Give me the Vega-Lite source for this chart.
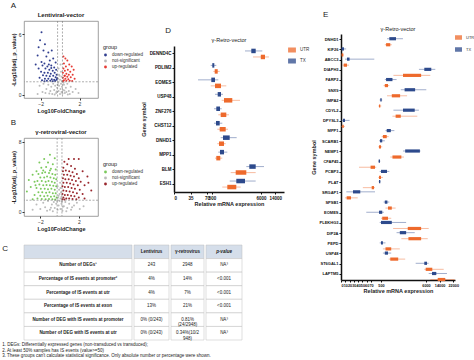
{
"$schema":"https://vega.github.io/schema/vega-lite/v6.json",
"padding":{"left":2,"top":2,"right":0,"bottom":0},
"background":"white",
"config":{
 "font":"Liberation Sans",
 "view":{"stroke":null},
 "axis":{"grid":false,"labelFontSize":5,"titleFontSize":5.5,"tickSize":2,"labelPadding":1,"titlePadding":2,"labelColor":"#333","titleColor":"#222","tickColor":"#333","domainColor":"#333"},
 "title":{"fontSize":6,"fontWeight":"bold","offset":2,"color":"#222"},
 "legend":{"titleFontSize":5.5,"labelFontSize":4.5,"symbolSize":8,"rowPadding":1,"padding":0,"titlePadding":2,"titleFontWeight":"normal","labelColor":"#333","titleColor":"#222"},
 "concat":{"spacing":4}
},
"datasets":{
 "va":[
  {"x":-2.1,"y":0.9,"g":"n"},{"x":-1.7,"y":1.1,"g":"n"},{"x":-1.4,"y":0.6,"g":"n"},{"x":-1.2,"y":1.0,"g":"n"},{"x":-1.0,"y":0.4,"g":"n"},{"x":-0.9,"y":0.8,"g":"n"},{"x":-0.7,"y":1.1,"g":"n"},{"x":-0.6,"y":0.5,"g":"n"},{"x":-0.5,"y":0.9,"g":"n"},{"x":-0.4,"y":0.2,"g":"n"},{"x":-0.3,"y":0.7,"g":"n"},{"x":-0.2,"y":1.2,"g":"n"},{"x":-0.15,"y":0.4,"g":"n"},{"x":-0.1,"y":0.9,"g":"n"},{"x":0,"y":0.1,"g":"n"},{"x":0.05,"y":0.6,"g":"n"},{"x":0.1,"y":1.1,"g":"n"},{"x":0.15,"y":0.3,"g":"n"},{"x":0.2,"y":0.8,"g":"n"},{"x":0.3,"y":0.5,"g":"n"},{"x":0.4,"y":1.0,"g":"n"},{"x":0.5,"y":0.2,"g":"n"},{"x":0.6,"y":0.7,"g":"n"},{"x":0.75,"y":1.1,"g":"n"},{"x":0.9,"y":0.4,"g":"n"},{"x":1.1,"y":0.8,"g":"n"},{"x":1.3,"y":0.3,"g":"n"},{"x":1.6,"y":0.6,"g":"n"},{"x":1.9,"y":0.2,"g":"n"},{"x":-1.8,"y":0.3,"g":"n"},{"x":-2.3,"y":0.1,"g":"n"},{"x":-0.8,"y":0.1,"g":"n"},{"x":0.8,"y":0.05,"g":"n"},{"x":-0.2,"y":1.6,"g":"n"},{"x":-0.1,"y":2.0,"g":"n"},{"x":0.0,"y":1.5,"g":"n"},{"x":0.1,"y":2.3,"g":"n"},{"x":0.15,"y":1.8,"g":"n"},{"x":-0.15,"y":2.6,"g":"n"},{"x":0.05,"y":3.0,"g":"n"},{"x":-0.05,"y":1.9,"g":"n"},{"x":0.2,"y":1.4,"g":"n"},{"x":-1.5,"y":0.2,"g":"n"},{"x":-1.1,"y":0.15,"g":"n"},{"x":-0.35,"y":0.35,"g":"n"},{"x":0.25,"y":0.15,"g":"n"},{"x":0.45,"y":0.45,"g":"n"},{"x":1.0,"y":0.1,"g":"n"},{"x":-0.55,"y":0.05,"g":"n"},{"x":0.65,"y":0.3,"g":"n"},{"x":-0.25,"y":1.0,"g":"n"},{"x":0.35,"y":1.2,"g":"n"},
  {"x":-1.9,"y":6.2,"g":"d"},{"x":-2.05,"y":5.4,"g":"d"},{"x":-1.55,"y":5.0,"g":"d"},{"x":-2.2,"y":4.7,"g":"d"},{"x":-1.7,"y":4.4,"g":"d"},{"x":-0.85,"y":4.4,"g":"d"},{"x":-1.2,"y":4.2,"g":"d"},{"x":-2.3,"y":3.9,"g":"d"},{"x":-1.4,"y":3.8,"g":"d"},{"x":-0.7,"y":3.6,"g":"d"},{"x":-1.05,"y":3.4,"g":"d"},{"x":-1.9,"y":3.25,"g":"d"},{"x":-2.5,"y":3.0,"g":"d"},{"x":-1.6,"y":3.1,"g":"d"},{"x":-0.45,"y":3.2,"g":"d"},{"x":-1.8,"y":2.9,"g":"d"},{"x":-1.3,"y":2.8,"g":"d"},{"x":-0.9,"y":2.9,"g":"d"},{"x":-0.6,"y":2.7,"g":"d"},{"x":-1.5,"y":2.6,"g":"d"},{"x":-1.1,"y":2.5,"g":"d"},{"x":-0.75,"y":2.4,"g":"d"},{"x":-0.4,"y":2.5,"g":"d"},{"x":-1.95,"y":2.3,"g":"d"},{"x":-1.6,"y":2.2,"g":"d"},{"x":-1.25,"y":2.2,"g":"d"},{"x":-0.95,"y":2.1,"g":"d"},{"x":-0.55,"y":2.2,"g":"d"},{"x":-0.35,"y":2.0,"g":"d"},{"x":-1.75,"y":1.95,"g":"d"},{"x":-1.4,"y":1.9,"g":"d"},{"x":-1.05,"y":1.85,"g":"d"},{"x":-0.7,"y":1.9,"g":"d"},{"x":-0.45,"y":1.75,"g":"d"},{"x":-2.1,"y":1.7,"g":"d"},{"x":-1.55,"y":1.6,"g":"d"},{"x":-1.2,"y":1.6,"g":"d"},{"x":-0.85,"y":1.55,"g":"d"},{"x":-0.6,"y":1.5,"g":"d"},{"x":-0.35,"y":1.5,"g":"d"},{"x":-1.85,"y":1.45,"g":"d"},{"x":-1.35,"y":1.4,"g":"d"},{"x":-1.0,"y":1.4,"g":"d"},{"x":-0.75,"y":1.35,"g":"d"},{"x":-0.5,"y":1.38,"g":"d"},{"x":-1.6,"y":1.35,"g":"d"},{"x":-0.9,"y":2.65,"g":"d"},{"x":-1.15,"y":3.0,"g":"d"},{"x":-0.3,"y":1.65,"g":"d"},{"x":-2.2,"y":2.6,"g":"d"},
  {"x":0.35,"y":3.8,"g":"u"},{"x":0.55,"y":3.6,"g":"u"},{"x":0.75,"y":3.4,"g":"u"},{"x":0.4,"y":3.1,"g":"u"},{"x":0.95,"y":3.0,"g":"u"},{"x":1.2,"y":2.8,"g":"u"},{"x":0.6,"y":2.8,"g":"u"},{"x":0.35,"y":2.6,"g":"u"},{"x":1.4,"y":2.5,"g":"u"},{"x":0.8,"y":2.5,"g":"u"},{"x":0.5,"y":2.4,"g":"u"},{"x":1.05,"y":2.3,"g":"u"},{"x":0.3,"y":2.2,"g":"u"},{"x":0.65,"y":2.1,"g":"u"},{"x":0.9,"y":2.0,"g":"u"},{"x":1.3,"y":2.0,"g":"u"},{"x":0.45,"y":1.9,"g":"u"},{"x":0.75,"y":1.8,"g":"u"},{"x":1.1,"y":1.75,"g":"u"},{"x":0.3,"y":1.7,"g":"u"},{"x":0.55,"y":1.6,"g":"u"},{"x":0.85,"y":1.55,"g":"u"},{"x":1.5,"y":1.6,"g":"u"},{"x":0.4,"y":1.45,"g":"u"},{"x":0.65,"y":1.4,"g":"u"},{"x":1.0,"y":1.4,"g":"u"},{"x":0.3,"y":1.35,"g":"u"},{"x":1.25,"y":1.38,"g":"u"},{"x":0.5,"y":1.9,"g":"u"}
 ],
 "vb":[
  {"x":-2.4,"y":0.8,"g":"n"},{"x":-2.0,"y":0.3,"g":"n"},{"x":-1.7,"y":1.0,"g":"n"},{"x":-1.5,"y":0.5,"g":"n"},{"x":-1.2,"y":1.2,"g":"n"},{"x":-1.0,"y":0.2,"g":"n"},{"x":-0.8,"y":0.8,"g":"n"},{"x":-0.6,"y":1.1,"g":"n"},{"x":-0.5,"y":0.4,"g":"n"},{"x":-0.35,"y":0.9,"g":"n"},{"x":-0.2,"y":0.2,"g":"n"},{"x":-0.1,"y":0.7,"g":"n"},{"x":0,"y":1.2,"g":"n"},{"x":0.1,"y":0.3,"g":"n"},{"x":0.2,"y":0.9,"g":"n"},{"x":0.3,"y":0.1,"g":"n"},{"x":0.45,"y":0.6,"g":"n"},{"x":0.6,"y":1.1,"g":"n"},{"x":0.8,"y":0.4,"g":"n"},{"x":1.0,"y":0.9,"g":"n"},{"x":1.2,"y":0.2,"g":"n"},{"x":1.5,"y":0.7,"g":"n"},{"x":1.8,"y":1.0,"g":"n"},{"x":2.1,"y":0.3,"g":"n"},{"x":2.5,"y":0.6,"g":"n"},{"x":-2.8,"y":0.2,"g":"n"},{"x":-0.7,"y":0.05,"g":"n"},{"x":0.7,"y":0.05,"g":"n"},{"x":-0.15,"y":1.6,"g":"n"},{"x":0.0,"y":2.0,"g":"n"},{"x":0.1,"y":1.5,"g":"n"},{"x":-0.05,"y":2.5,"g":"n"},{"x":0.15,"y":2.2,"g":"n"},{"x":-0.2,"y":2.9,"g":"n"},{"x":0.05,"y":3.3,"g":"n"},{"x":-0.1,"y":1.8,"g":"n"},{"x":0.2,"y":1.7,"g":"n"},{"x":0.1,"y":2.7,"g":"n"},{"x":-1.3,"y":0.1,"g":"n"},{"x":-0.9,"y":0.45,"g":"n"},{"x":0.35,"y":0.55,"g":"n"},{"x":1.3,"y":0.5,"g":"n"},{"x":-0.25,"y":1.25,"g":"n"},{"x":0.25,"y":1.15,"g":"n"},
  {"x":-1.0,"y":6.5,"g":"d"},{"x":-1.6,"y":6.0,"g":"d"},{"x":-0.5,"y":6.1,"g":"d"},{"x":-2.1,"y":5.6,"g":"d"},{"x":-1.2,"y":5.6,"g":"d"},{"x":-0.7,"y":5.4,"g":"d"},{"x":-1.9,"y":5.0,"g":"d"},{"x":-1.4,"y":5.1,"g":"d"},{"x":-0.9,"y":4.9,"g":"d"},{"x":-0.4,"y":4.8,"g":"d"},{"x":-2.4,"y":4.6,"g":"d"},{"x":-2.8,"y":4.2,"g":"d"},{"x":-3.2,"y":3.6,"g":"d"},{"x":-2.6,"y":3.4,"g":"d"},{"x":-3.0,"y":2.8,"g":"d"},{"x":-3.4,"y":2.3,"g":"d"},{"x":-2.2,"y":4.3,"g":"d"},{"x":-1.8,"y":4.4,"g":"d"},{"x":-1.5,"y":4.5,"g":"d"},{"x":-1.1,"y":4.4,"g":"d"},{"x":-0.75,"y":4.3,"g":"d"},{"x":-0.45,"y":4.2,"g":"d"},{"x":-2.0,"y":3.9,"g":"d"},{"x":-1.6,"y":3.9,"g":"d"},{"x":-1.3,"y":4.0,"g":"d"},{"x":-0.95,"y":3.9,"g":"d"},{"x":-0.6,"y":3.8,"g":"d"},{"x":-0.35,"y":3.7,"g":"d"},{"x":-2.3,"y":3.5,"g":"d"},{"x":-1.85,"y":3.5,"g":"d"},{"x":-1.45,"y":3.4,"g":"d"},{"x":-1.15,"y":3.5,"g":"d"},{"x":-0.8,"y":3.4,"g":"d"},{"x":-0.5,"y":3.3,"g":"d"},{"x":-2.1,"y":3.1,"g":"d"},{"x":-1.7,"y":3.0,"g":"d"},{"x":-1.35,"y":3.05,"g":"d"},{"x":-1.0,"y":3.0,"g":"d"},{"x":-0.65,"y":2.95,"g":"d"},{"x":-0.35,"y":2.9,"g":"d"},{"x":-2.4,"y":2.7,"g":"d"},{"x":-1.95,"y":2.6,"g":"d"},{"x":-1.55,"y":2.6,"g":"d"},{"x":-1.2,"y":2.55,"g":"d"},{"x":-0.85,"y":2.6,"g":"d"},{"x":-0.5,"y":2.5,"g":"d"},{"x":-2.2,"y":2.2,"g":"d"},{"x":-1.8,"y":2.2,"g":"d"},{"x":-1.4,"y":2.15,"g":"d"},{"x":-1.05,"y":2.2,"g":"d"},{"x":-0.7,"y":2.1,"g":"d"},{"x":-0.4,"y":2.1,"g":"d"},{"x":-2.6,"y":1.9,"g":"d"},{"x":-2.0,"y":1.8,"g":"d"},{"x":-1.6,"y":1.75,"g":"d"},{"x":-1.25,"y":1.8,"g":"d"},{"x":-0.9,"y":1.7,"g":"d"},{"x":-0.55,"y":1.75,"g":"d"},{"x":-0.3,"y":1.6,"g":"d"},{"x":-2.3,"y":1.5,"g":"d"},{"x":-1.85,"y":1.45,"g":"d"},{"x":-1.45,"y":1.4,"g":"d"},{"x":-1.1,"y":1.45,"g":"d"},{"x":-0.75,"y":1.4,"g":"d"},{"x":-0.45,"y":1.38,"g":"d"},{"x":-2.8,"y":1.4,"g":"d"},{"x":-1.0,"y":4.7,"g":"d"},{"x":-1.7,"y":4.7,"g":"d"},{"x":-2.5,"y":3.0,"g":"d"},
  {"x":0.95,"y":6.0,"g":"u"},{"x":1.5,"y":6.0,"g":"u"},{"x":2.0,"y":6.0,"g":"u"},{"x":0.5,"y":5.7,"g":"u"},{"x":0.8,"y":5.4,"g":"u"},{"x":1.2,"y":5.2,"g":"u"},{"x":0.4,"y":5.0,"g":"u"},{"x":1.6,"y":4.9,"g":"u"},{"x":2.4,"y":4.6,"g":"u"},{"x":2.9,"y":4.0,"g":"u"},{"x":3.0,"y":3.3,"g":"u"},{"x":2.6,"y":3.0,"g":"u"},{"x":3.3,"y":2.4,"g":"u"},{"x":0.35,"y":4.6,"g":"u"},{"x":0.65,"y":4.7,"g":"u"},{"x":1.0,"y":4.6,"g":"u"},{"x":1.35,"y":4.5,"g":"u"},{"x":1.8,"y":4.3,"g":"u"},{"x":0.45,"y":4.2,"g":"u"},{"x":0.8,"y":4.2,"g":"u"},{"x":1.15,"y":4.1,"g":"u"},{"x":1.5,"y":4.0,"g":"u"},{"x":2.0,"y":3.8,"g":"u"},{"x":0.35,"y":3.8,"g":"u"},{"x":0.6,"y":3.7,"g":"u"},{"x":0.95,"y":3.7,"g":"u"},{"x":1.3,"y":3.6,"g":"u"},{"x":1.7,"y":3.5,"g":"u"},{"x":2.2,"y":3.4,"g":"u"},{"x":0.4,"y":3.3,"g":"u"},{"x":0.75,"y":3.3,"g":"u"},{"x":1.1,"y":3.2,"g":"u"},{"x":1.45,"y":3.1,"g":"u"},{"x":1.9,"y":3.0,"g":"u"},{"x":0.3,"y":2.9,"g":"u"},{"x":0.55,"y":2.8,"g":"u"},{"x":0.9,"y":2.8,"g":"u"},{"x":1.25,"y":2.7,"g":"u"},{"x":1.6,"y":2.6,"g":"u"},{"x":2.1,"y":2.5,"g":"u"},{"x":0.4,"y":2.4,"g":"u"},{"x":0.7,"y":2.35,"g":"u"},{"x":1.05,"y":2.3,"g":"u"},{"x":1.4,"y":2.2,"g":"u"},{"x":1.8,"y":2.1,"g":"u"},{"x":2.4,"y":2.0,"g":"u"},{"x":0.3,"y":2.0,"g":"u"},{"x":0.55,"y":1.9,"g":"u"},{"x":0.85,"y":1.9,"g":"u"},{"x":1.2,"y":1.8,"g":"u"},{"x":1.55,"y":1.75,"g":"u"},{"x":2.0,"y":1.6,"g":"u"},{"x":0.4,"y":1.6,"g":"u"},{"x":0.7,"y":1.5,"g":"u"},{"x":1.0,"y":1.5,"g":"u"},{"x":1.35,"y":1.45,"g":"u"},{"x":1.75,"y":1.4,"g":"u"},{"x":0.3,"y":1.4,"g":"u"},{"x":0.5,"y":1.38,"g":"u"},{"x":2.6,"y":1.5,"g":"u"}
 ],
 "dd":[
  {"gene":"DENND4C","grp":"TX","lo":3800,"q1":4430,"q3":4870,"hi":6735},{"gene":"DENND4C","grp":"UTR","lo":4600,"q1":5950,"q3":8260,"hi":10500},
  {"gene":"PDLIM2","grp":"TX","lo":388,"q1":530,"q3":730,"hi":930},{"gene":"PDLIM2","grp":"UTR","lo":630,"q1":770,"q3":1070,"hi":1270},
  {"gene":"EOMES","grp":"TX","lo":51,"q1":440,"q3":800,"hi":1130},{"gene":"EOMES","grp":"UTR","lo":388,"q1":800,"q3":1400,"hi":1930},
  {"gene":"USP48","grp":"TX","lo":800,"q1":1070,"q3":1400,"hi":1600},{"gene":"USP48","grp":"UTR","lo":1470,"q1":1700,"q3":2530,"hi":3300},
  {"gene":"ZNF276","grp":"TX","lo":700,"q1":930,"q3":1300,"hi":1470},{"gene":"ZNF276","grp":"UTR","lo":1130,"q1":1370,"q3":1930,"hi":2200},
  {"gene":"CHST12","grp":"TX","lo":700,"q1":900,"q3":1270,"hi":1530},{"gene":"CHST12","grp":"UTR","lo":1030,"q1":1270,"q3":1870,"hi":2100},
  {"gene":"DNHD1","grp":"TX","lo":1370,"q1":1600,"q3":2270,"hi":2970},{"gene":"DNHD1","grp":"UTR","lo":1030,"q1":1200,"q3":1700,"hi":1870},
  {"gene":"MPP1","grp":"TX","lo":1130,"q1":1300,"q3":1700,"hi":2030},{"gene":"MPP1","grp":"UTR","lo":800,"q1":930,"q3":1330,"hi":1530},
  {"gene":"BLM","grp":"TX","lo":3930,"q1":4230,"q3":4870,"hi":7700},{"gene":"BLM","grp":"UTR","lo":2370,"q1":2870,"q3":3930,"hi":4870},
  {"gene":"ESH1","grp":"TX","lo":2270,"q1":2930,"q3":3800,"hi":4870},{"gene":"ESH1","grp":"UTR","lo":1530,"q1":2030,"q3":2930,"hi":3370}
 ],
 "ee":[
  {"gene":"DNHD1","grp":"TX","lo":1130,"q1":1370,"q3":2070,"hi":2800},{"gene":"DNHD1","grp":"UTR","lo":900,"q1":1030,"q3":1470,"hi":1630},
  {"gene":"KIF26","grp":"TX","lo":0,"q1":1.6,"q3":7,"hi":12},{"gene":"KIF26","grp":"UTR","lo":0,"q1":1.6,"q3":5.4,"hi":6.3},
  {"gene":"ABCC3","grp":"TX","lo":9.3,"q1":14,"q3":20,"hi":212},{"gene":"ABCC3","grp":"UTR","lo":3,"q1":6.3,"q3":14,"hi":18.7},
  {"gene":"DIAPH3","grp":"TX","lo":4470,"q1":5150,"q3":9100,"hi":11450},{"gene":"DIAPH3","grp":"UTR","lo":1800,"q1":2800,"q3":4700,"hi":8520},
  {"gene":"FARP2","grp":"TX","lo":900,"q1":1030,"q3":1700,"hi":2130},{"gene":"FARP2","grp":"UTR","lo":770,"q1":900,"q3":1230,"hi":1370},
  {"gene":"SNX9","grp":"TX","lo":2570,"q1":2970,"q3":4070,"hi":6180},{"gene":"SNX9","grp":"UTR","lo":1130,"q1":1630,"q3":2500,"hi":3230},
  {"gene":"IMPA2","grp":"TX","lo":444,"q1":470,"q3":570,"hi":630},{"gene":"IMPA2","grp":"UTR","lo":384,"q1":414,"q3":470,"hi":530},
  {"gene":"CDYL2","grp":"TX","lo":1800,"q1":2800,"q3":4030,"hi":4470},{"gene":"CDYL2","grp":"UTR","lo":1700,"q1":2030,"q3":2570,"hi":4300},
  {"gene":"DPYSL3","grp":"TX","lo":0,"q1":4.7,"q3":9.3,"hi":20},{"gene":"DPYSL3","grp":"UTR","lo":0,"q1":3,"q3":6.3,"hi":9},
  {"gene":"MPP1","grp":"TX","lo":970,"q1":1100,"q3":1530,"hi":1900},{"gene":"MPP1","grp":"UTR","lo":570,"q1":700,"q3":1100,"hi":1300},
  {"gene":"SCARB1","grp":"TX","lo":414,"q1":457,"q3":630,"hi":900},{"gene":"SCARB1","grp":"UTR","lo":384,"q1":414,"q3":500,"hi":630},
  {"gene":"NEMP1","grp":"TX","lo":2800,"q1":3030,"q3":4570,"hi":4630},{"gene":"NEMP1","grp":"UTR","lo":1470,"q1":1700,"q3":2630,"hi":2900},
  {"gene":"CFAP45","grp":"TX","lo":384,"q1":400,"q3":457,"hi":470},{"gene":"CFAP45","grp":"UTR","lo":42,"q1":69,"q3":242,"hi":298},
  {"gene":"PCBP3","grp":"TX","lo":444,"q1":500,"q3":1130,"hi":1370},{"gene":"PCBP3","grp":"UTR","lo":384,"q1":414,"q3":500,"hi":700},
  {"gene":"PLAT","grp":"TX","lo":400,"q1":414,"q3":470,"hi":480},{"gene":"PLAT","grp":"UTR","lo":51,"q1":100,"q3":200,"hi":242},
  {"gene":"SRGAP1","grp":"TX","lo":12.4,"q1":28,"q3":45,"hi":242},{"gene":"SRGAP1","grp":"UTR","lo":9.3,"q1":13.2,"q3":23.3,"hi":39},
  {"gene":"SPSB1","grp":"TX","lo":770,"q1":900,"q3":1170,"hi":1370},{"gene":"SPSB1","grp":"UTR","lo":970,"q1":1230,"q3":1630,"hi":2030},
  {"gene":"EOMES","grp":"TX","lo":59,"q1":414,"q3":630,"hi":800},{"gene":"EOMES","grp":"UTR","lo":500,"q1":630,"q3":1230,"hi":1570},
  {"gene":"PLEKHG3","grp":"TX","lo":444,"q1":500,"q3":1630,"hi":3130},{"gene":"PLEKHG3","grp":"UTR","lo":1770,"q1":3300,"q3":4700,"hi":7580},
  {"gene":"DIP2A","grp":"TX","lo":2130,"q1":2470,"q3":3130,"hi":4030},{"gene":"DIP2A","grp":"UTR","lo":2630,"q1":3370,"q3":4700,"hi":7000},
  {"gene":"PEPD","grp":"TX","lo":444,"q1":500,"q3":700,"hi":970},{"gene":"PEPD","grp":"UTR","lo":700,"q1":970,"q3":1570,"hi":2470},
  {"gene":"USP48","grp":"TX","lo":700,"q1":900,"q3":1230,"hi":1570},{"gene":"USP48","grp":"UTR","lo":1300,"q1":1470,"q3":2300,"hi":3030},
  {"gene":"ST6GAL1","grp":"TX","lo":4130,"q1":5150,"q3":6590,"hi":7580},{"gene":"ST6GAL1","grp":"UTR","lo":5150,"q1":5850,"q3":9690,"hi":16370},
  {"gene":"LAPTM5","grp":"TX","lo":7580,"q1":9500,"q3":12040,"hi":18300},{"gene":"LAPTM5","grp":"UTR","lo":8520,"q1":12860,"q3":17310,"hi":22800}
 ],
 "tbl":[
  {"r":0,"c":0,"t":""},{"r":0,"c":1,"t":"Lentivirus"},{"r":0,"c":2,"t":"γ-retrovirus"},{"r":0,"c":3,"t":"p-value"},
  {"r":1,"c":0,"t":"Number of DEGs¹"},{"r":1,"c":1,"t":"243"},{"r":1,"c":2,"t":"2948"},{"r":1,"c":3,"t":"NA³"},
  {"r":2,"c":0,"t":"Percentage of IS events at promoter²"},{"r":2,"c":1,"t":"4%"},{"r":2,"c":2,"t":"14%"},{"r":2,"c":3,"t":"<0.001"},
  {"r":3,"c":0,"t":"Percentage of IS events at utr"},{"r":3,"c":1,"t":"4%"},{"r":3,"c":2,"t":"7%"},{"r":3,"c":3,"t":"<0.001"},
  {"r":4,"c":0,"t":"Percentage of IS events at exon"},{"r":4,"c":1,"t":"13%"},{"r":4,"c":2,"t":"21%"},{"r":4,"c":3,"t":"<0.001"},
  {"r":5,"c":0,"t":"Number of DEG with IS events at promoter"},{"r":5,"c":1,"t":"0% (0/243)"},{"r":5,"c":2,"t":["0.81%","(24/2948)"]},{"r":5,"c":3,"t":"NA³"},
  {"r":6,"c":0,"t":"Number of DEG with IS events at utr"},{"r":6,"c":1,"t":"0% (0/243)"},{"r":6,"c":2,"t":["0.34%(10/2","948)"]},{"r":6,"c":3,"t":"NA³"}
 ]
},
"hconcat":[
 {"vconcat":[
   {"hconcat":[
     {"vconcat":[
       {"vconcat":[
         {"width":74,"height":77,
          "title":{"text":"Lentiviral-vector","offset":3},
          "view":{"stroke":"#888","strokeWidth":0.8},
          "layer":[
           {"data":{"name":"va"},"mark":{"type":"point","filled":true,"size":4,"opacity":0.9},
            "encoding":{
             "x":{"field":"x","type":"quantitative","scale":{"domain":[-3.7,3.9],"nice":false,"zero":false},"axis":{"title":"Log10FoldChange","values":[-2,0,2],"domain":false}},
             "y":{"field":"y","type":"quantitative","scale":{"domain":[-0.3,7.3],"nice":false,"zero":false},"axis":{"title":"-Log10(adj_p_value)","values":[0,2,4,6],"domain":false}},
             "color":{"field":"g","type":"nominal","scale":{"domain":["d","n","u"],"range":["#1B2A84","#B5B5B5","#E3261F"]},
               "legend":{"title":"group","orient":"none","legendX":79,"legendY":24,"symbolType":"circle","labelExpr":"datum.value=='d'?'down-regulated':datum.value=='n'?'not-significant':'up-regulated'"}}}},
           {"data":{"values":[{"v":-0.25},{"v":0.25}]},"mark":{"type":"rule","strokeDash":[2,1.5],"color":"#777","strokeWidth":0.6},"encoding":{"x":{"field":"v","type":"quantitative"}}},
           {"data":{"values":[{"h":1.3}]},"mark":{"type":"rule","strokeDash":[2,1.5],"color":"#777","strokeWidth":0.6},"encoding":{"y":{"field":"h","type":"quantitative"}}}
          ]}
        ],
        "title":{"text":"A","anchor":"start","fontSize":8,"fontWeight":"normal","frame":"bounds","offset":1},
        "resolve":{"scale":{"color":"independent"}}},
       {"vconcat":[
         {"width":74,"height":78,
          "title":{"text":"γ-retroviral-vector","offset":3},
          "view":{"stroke":"#888","strokeWidth":0.8},
          "layer":[
           {"data":{"name":"vb"},"mark":{"type":"point","filled":true,"size":4,"opacity":0.9},
            "encoding":{
             "x":{"field":"x","type":"quantitative","scale":{"domain":[-3.7,4.0],"nice":false,"zero":false},"axis":{"title":"Log10FoldChange","values":[-2,0,2],"domain":false}},
             "y":{"field":"y","type":"quantitative","scale":{"domain":[-0.5,8.4],"nice":false,"zero":false},"axis":{"title":"-Log10(adj_p_value)","values":[0,2,4,6,8],"domain":false}},
             "color":{"field":"g","type":"nominal","scale":{"domain":["d","n","u"],"range":["#6DC34A","#B5B5B5","#8E1016"]},
               "legend":{"title":"group","orient":"none","legendX":79,"legendY":24,"symbolType":"circle","labelExpr":"datum.value=='d'?'down-regulated':datum.value=='n'?'not-significant':'up-regulated'"}}}},
           {"data":{"values":[{"v":-0.25},{"v":0.25}]},"mark":{"type":"rule","strokeDash":[2,1.5],"color":"#777","strokeWidth":0.6},"encoding":{"x":{"field":"v","type":"quantitative"}}},
           {"data":{"values":[{"h":1.3}]},"mark":{"type":"rule","strokeDash":[2,1.5],"color":"#777","strokeWidth":0.6},"encoding":{"y":{"field":"h","type":"quantitative"}}}
          ]}
        ],
        "title":{"text":"B","anchor":"start","fontSize":8,"fontWeight":"normal","frame":"bounds","offset":1},
        "resolve":{"scale":{"color":"independent"}}}
      ],
      "spacing":5,
      "resolve":{"scale":{"color":"independent"}}},
     {"vconcat":[
       {"width":110,"height":6,"data":{"values":[{"a":0}]},"mark":{"type":"text","fontSize":0.1},"encoding":{"text":{"value":""}},
        "title":{"text":"D","orient":"left","angle":0,"anchor":"start","fontSize":8,"fontWeight":"normal","offset":3}},
       {"width":110,"height":146,
        "title":{"text":"γ-Retro-vector","fontSize":5.5,"fontWeight":"normal","offset":3},
        "data":{"name":"dd"},
        "encoding":{
         "y":{"field":"gene","type":"nominal","sort":["DENND4C","PDLIM2","EOMES","USP48","ZNF276","CHST12","DNHD1","MPP1","BLM","ESH1"],"scale":{"paddingInner":0,"paddingOuter":0.05},
              "axis":{"title":"Gene symbol","titleFontWeight":"bold","labelFontWeight":"bold","labelFontSize":4.5,"domainWidth":1.5,"domainColor":"#111","tickColor":"#111","labelColor":"#111","titlePadding":3}},
         "yOffset":{"field":"grp","type":"nominal","sort":["TX","UTR"],"scale":{"paddingOuter":0.2}},
         "color":{"field":"grp","type":"nominal","scale":{"domain":["UTR","TX"],"range":["#EE6A2C","#2D4A8C"]},
                  "legend":{"title":null,"orient":"right","offset":4,"symbolType":"M-1,-0.55H1V0.55H-1Z","symbolSize":40,"labelFontSize":4.5}}
        },
        "layer":[
         {"mark":{"type":"rule","strokeWidth":0.6,"opacity":0.75},
          "encoding":{"x":{"field":"lo","type":"quantitative","scale":{"type":"linear","domain":[0,70,500,5000,6000,19000],"range":[0,33,38,83,87,110],"nice":false,"zero":false},
                           "axis":{"title":"Relative mRNA expression","titleFontWeight":"bold","values":[0,35,70,500,6000,14000],"tickCount":50,"format":"d","labelOverlap":false,"labelFontWeight":"bold","labelFontSize":4.5,"domainWidth":1.5,"domainColor":"#111","tickColor":"#111","labelColor":"#111"}},
                      "x2":{"field":"hi"}}},
         {"mark":{"type":"bar","height":4.5},
          "encoding":{"x":{"field":"q1","type":"quantitative","scale":{"type":"linear","domain":[0,70,500,5000,6000,19000],"range":[0,33,38,83,87,110],"nice":false,"zero":false}},
                      "x2":{"field":"q3"}}}
        ]}
      ],
      "spacing":2,
      "resolve":{"scale":{"color":"independent"}}}
    ],
    "spacing":-4,
    "resolve":{"scale":{"color":"independent"}}},
   {"vconcat":[
     {"vconcat":[
       {"hconcat":[
         {"width":108,"height":95,"data":{"name":"tbl"},"transform":[{"filter":"datum.c==0"}],
          "encoding":{"y":{"field":"r","type":"ordinal","axis":null,"scale":{"paddingInner":0,"paddingOuter":0}}},
          "layer":[
           {"mark":{"type":"rect","stroke":"#BDBDBD","strokeWidth":0.5},"encoding":{"fill":{"condition":{"test":"datum.r==0","value":"#D5DEEA"},"value":"#ffffff"}}},
           {"mark":{"type":"text","fontSize":4.5,"fontWeight":"bold","lineHeight":5.5,"color":"#222"},"encoding":{"text":{"field":"t"}}}
          ]},
         {"width":35,"height":95,"data":{"name":"tbl"},"transform":[{"filter":"datum.c==1"}],
          "encoding":{"y":{"field":"r","type":"ordinal","axis":null,"scale":{"paddingInner":0,"paddingOuter":0}}},
          "layer":[
           {"mark":{"type":"rect","stroke":"#BDBDBD","strokeWidth":0.5},"encoding":{"fill":{"condition":{"test":"datum.r==0","value":"#D5DEEA"},"value":"#ffffff"}}},
           {"transform":[{"filter":"datum.r==0"}],"mark":{"type":"text","fontSize":4.5,"fontWeight":"bold","lineHeight":5.5,"color":"#222"},"encoding":{"text":{"field":"t"}}},
           {"transform":[{"filter":"datum.r>0"}],"mark":{"type":"text","fontSize":4.5,"lineHeight":5.5,"color":"#222"},"encoding":{"text":{"field":"t"}}}
          ]},
         {"width":33,"height":95,"data":{"name":"tbl"},"transform":[{"filter":"datum.c==2"}],
          "encoding":{"y":{"field":"r","type":"ordinal","axis":null,"scale":{"paddingInner":0,"paddingOuter":0}}},
          "layer":[
           {"mark":{"type":"rect","stroke":"#BDBDBD","strokeWidth":0.5},"encoding":{"fill":{"condition":{"test":"datum.r==0","value":"#D5DEEA"},"value":"#ffffff"}}},
           {"transform":[{"filter":"datum.r==0"}],"mark":{"type":"text","fontSize":4.5,"fontWeight":"bold","lineHeight":5.5,"color":"#222"},"encoding":{"text":{"field":"t"}}},
           {"transform":[{"filter":"datum.r>0"}],"mark":{"type":"text","fontSize":4.5,"lineHeight":5.5,"color":"#222"},"encoding":{"text":{"field":"t"}}}
          ]},
         {"width":36,"height":95,"data":{"name":"tbl"},"transform":[{"filter":"datum.c==3"}],
          "encoding":{"y":{"field":"r","type":"ordinal","axis":null,"scale":{"paddingInner":0,"paddingOuter":0}}},
          "layer":[
           {"mark":{"type":"rect","stroke":"#BDBDBD","strokeWidth":0.5},"encoding":{"fill":{"condition":{"test":"datum.r==0","value":"#D5DEEA"},"value":"#ffffff"}}},
           {"transform":[{"filter":"datum.r==0"}],"mark":{"type":"text","fontSize":4.5,"fontWeight":"bold","fontStyle":"italic","lineHeight":5.5,"color":"#222"},"encoding":{"text":{"field":"t"}}},
           {"transform":[{"filter":"datum.r>0"}],"mark":{"type":"text","fontSize":4.5,"lineHeight":5.5,"color":"#222"},"encoding":{"text":{"field":"t"}}}
          ]}
        ],
        "spacing":0}
      ],
      "title":{"text":"C","orient":"left","angle":0,"anchor":"end","fontSize":8,"fontWeight":"normal","offset":10}}
    ],
    "title":{"text":["1. DEGs: Differentially expressed genes (non-transduced vs transduced);","2. At least 50% samples has IS events (value>=50)","3. These groups can't calculate statistical significance. Only absolute number or percentage were shown."],
             "orient":"bottom","anchor":"start","frame":"bounds","fontSize":4.5,"fontWeight":"normal","lineHeight":5.5,"offset":2}}
  ],
  "spacing":12,
  "resolve":{"scale":{"color":"independent"}}},
 {"vconcat":[
   {"width":114,"height":2,"data":{"values":[{"a":0}]},"mark":{"type":"text","fontSize":0.1},"encoding":{"text":{"value":""}},
    "title":{"text":"E","anchor":"start","fontSize":8,"fontWeight":"normal","frame":"group","offset":2,"dx":-18}},
   {"width":114,"height":246,
    "title":{"text":"γ-Retro-vector","fontSize":5.5,"fontWeight":"normal","offset":2},
    "data":{"name":"ee"},
    "encoding":{
     "y":{"field":"gene","type":"nominal","sort":["DNHD1","KIF26","ABCC3","DIAPH3","FARP2","SNX9","IMPA2","CDYL2","DPYSL3","MPP1","SCARB1","NEMP1","CFAP45","PCBP3","PLAT","SRGAP1","SPSB1","EOMES","PLEKHG3","DIP2A","PEPD","USP48","ST6GAL1","LAPTM5"],"scale":{"paddingInner":0,"paddingOuter":0.05},
          "axis":{"title":"Gene symbol","titleFontWeight":"bold","labelFontWeight":"bold","labelFontSize":4,"domainWidth":1.5,"domainColor":"#111","tickColor":"#111","labelColor":"#111","titlePadding":3}},
     "yOffset":{"field":"grp","type":"nominal","sort":["TX","UTR"],"scale":{"paddingOuter":0.2}},
     "color":{"field":"grp","type":"nominal","scale":{"domain":["UTR","TX"],"range":["#EE6A2C","#2D4A8C"]},
              "legend":{"title":null,"orient":"right","offset":0,"symbolType":"M-1,-0.55H1V0.55H-1Z","symbolSize":30,"labelFontSize":4}}
    },
    "layer":[
     {"mark":{"type":"rule","strokeWidth":0.6,"opacity":0.75},
      "encoding":{"x":{"field":"lo","type":"quantitative","scale":{"type":"linear","domain":[0,70,500,5000,6000,23000],"range":[0,30,40,83,85,114],"nice":false,"zero":false},
                       "axis":{"title":"Relative mRNA expression","titleFontWeight":"bold","values":[0,10,20,30,40,50,60,70,500,6000,14000,22000],"tickCount":50,"format":"d","labelFontWeight":"bold","labelFontSize":3.8,"labelOverlap":false,"domainWidth":1.5,"domainColor":"#111","tickColor":"#111","labelColor":"#111"}},
                  "x2":{"field":"hi"}}},
     {"mark":{"type":"bar","height":3.2},
      "encoding":{"x":{"field":"q1","type":"quantitative","scale":{"type":"linear","domain":[0,70,500,5000,6000,23000],"range":[0,30,40,83,85,114],"nice":false,"zero":false}},
                  "x2":{"field":"q3"}}}
    ]}
  ],
  "spacing":3,
  "resolve":{"scale":{"color":"independent"}}}
],
"spacing":1,
"resolve":{"scale":{"color":"independent"}}
}
